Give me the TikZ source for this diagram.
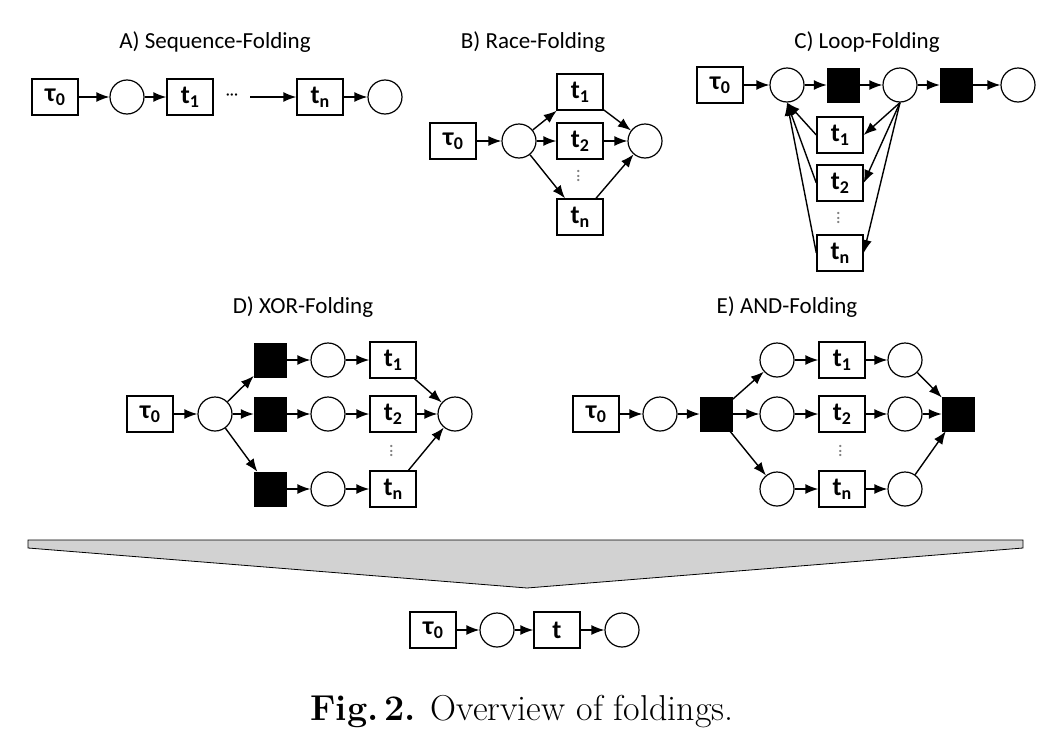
\documentclass[tikz,border=0pt]{standalone}
\usepackage{fontspec}
\newfontfamily\carl{Carlito}
\usetikzlibrary{arrows.meta}
\begin{document}
\begin{tikzpicture}[x=1pt,y=-1pt,
 tr/.style={draw,line width=1.4pt,minimum width=46pt,minimum height=36pt,inner sep=0pt,font=\carl\bfseries\fontsize{26}{28}\selectfont},
 pl/.style={draw,circle,line width=1.2pt,minimum size=34pt,inner sep=0pt},
 bl/.style={draw,fill=black,minimum width=32pt,minimum height=34pt,inner sep=0pt},
 dt/.style={font=\carl\fontsize{16}{16}\selectfont,text=gray},
 ttl/.style={font=\carl\fontsize{23}{25}\selectfont},
 a/.style={-{Latex[length=13pt,width=10pt]},line width=1.4pt}]
\useasboundingbox (0,0) rectangle (1045,739);
\newcommand\tzero{\textbf{τ}\raisebox{-0.3ex}{\fontsize{18}{18}\selectfont\bfseries 0}}
\newcommand\ti[1]{t\raisebox{-0.3ex}{\fontsize{18}{18}\selectfont\bfseries #1}}
% A
\node[ttl] (ta) at (215,42) {A) Sequence-Folding};
\node[tr] (a0) at (55,97) {\tzero};
\node[pl] (ap1) at (127,97) {};
\node[tr] (a1) at (190,97) {\ti{1}};
\node[dt,text=black] (ad) at (232,97) {···};
\coordinate (adr) at (250,97);
\node[tr] (an) at (320,97) {\ti{n}};
\node[pl] (ap2) at (385,97) {};
\draw[a] (a0)--(ap1); \draw[a] (ap1)--(a1); \draw[a] (adr)--(an); \draw[a] (an)--(ap2);
% B
\node[ttl] (tb) at (533,42) {B) Race-Folding};
\node[tr] (b0) at (453,141) {\tzero};
\node[pl] (bp) at (519,141) {};
\node[tr] (b1) at (580,92) {\ti{1}};
\node[tr] (b2) at (580,141) {\ti{2}};
\node[dt] (bd) at (580,176) {\rotatebox{90}{···}};
\node[tr] (bn) at (580,217) {\ti{n}};
\node[pl] (bq) at (645,141) {};
\draw[a] (b0)--(bp);
\foreach \t in {b1,b2,bn}{\draw[a] (bp)--(\t); \draw[a] (\t)--(bq);}
% C
\node[ttl] (tc) at (867,42) {C) Loop-Folding};
\node[tr] (c0) at (720,85) {\tzero};
\node[pl] (cp1) at (787,85) {};
\node[bl] (cb1) at (843,85) {};
\node[pl] (cp2) at (900,85) {};
\node[bl] (cb2) at (956,85) {};
\node[pl] (cp3) at (1018,85) {};
\node[tr] (c1) at (840,135) {\ti{1}};
\node[tr] (c2) at (840,183) {\ti{2}};
\node[dt] (cd) at (840,218) {\rotatebox{90}{···}};
\node[tr] (cn) at (840,253) {\ti{n}};
\draw[a] (c0)--(cp1); \draw[a] (cp1)--(cb1); \draw[a] (cb1)--(cp2); \draw[a] (cp2)--(cb2); \draw[a] (cb2)--(cp3);
\foreach \t in {c1,c2,cn}{\draw[a] (\t.west)--(cp1.south); \draw[a] (cp2.south)--(\t.east);}
% D
\node[ttl] (td) at (303,307) {D) XOR-Folding};
\node[tr] (d0) at (150,414) {\tzero};
\node[pl] (dp) at (215,414) {};
\node[pl] (dq) at (455,414) {};
\node[dt] (dd) at (393,451) {\rotatebox{90}{···}};
\foreach \i/\y/\l in {1/360/1,2/414/2,3/489/n}{
 \node[bl] (db\i) at (270,\y) {};
 \node[pl] (dc\i) at (328,\y) {};
 \node[tr] (dt\i) at (393,\y) {\ti{\l}};
 \draw[a] (dp)--(db\i); \draw[a] (db\i)--(dc\i); \draw[a] (dc\i)--(dt\i); \draw[a] (dt\i)--(dq);}
\draw[a] (d0)--(dp);
% E
\node[ttl] (te) at (787,307) {E) AND-Folding};
\node[tr] (e0) at (596,414) {\tzero};
\node[pl] (ep) at (660,414) {};
\node[bl] (eb) at (716,414) {};
\node[bl] (ef) at (958,414) {};
\node[dt] (ed) at (842,451) {\rotatebox{90}{···}};
\draw[a] (e0)--(ep); \draw[a] (ep)--(eb);
\foreach \i/\y/\l in {1/360/1,2/414/2,3/489/n}{
 \node[pl] (ec\i) at (777,\y) {};
 \node[tr] (et\i) at (842,\y) {\ti{\l}};
 \node[pl] (eq\i) at (905,\y) {};
 \draw[a] (eb)--(ec\i); \draw[a] (ec\i)--(et\i); \draw[a] (et\i)--(eq\i); \draw[a] (eq\i)--(ef);}
% band
\draw[fill=gray!35,line width=0.8pt] (28,540)--(1023,540)--(1023,548)--(527,588)--(28,548)--cycle;
% result
\node[tr] (r0) at (433,630) {\tzero};
\node[pl] (rp1) at (497,630) {};
\node[tr] (r1) at (557,630) {t};
\node[pl] (rp2) at (622,630) {};
\draw[a] (r0)--(rp1); \draw[a] (rp1)--(r1); \draw[a] (r1)--(rp2);
\node[font=\fontsize{36}{38}\selectfont] (cap) at (522,712) {\textbf{Fig.\,2.} Overview of foldings.};
\end{tikzpicture}
\end{document}
